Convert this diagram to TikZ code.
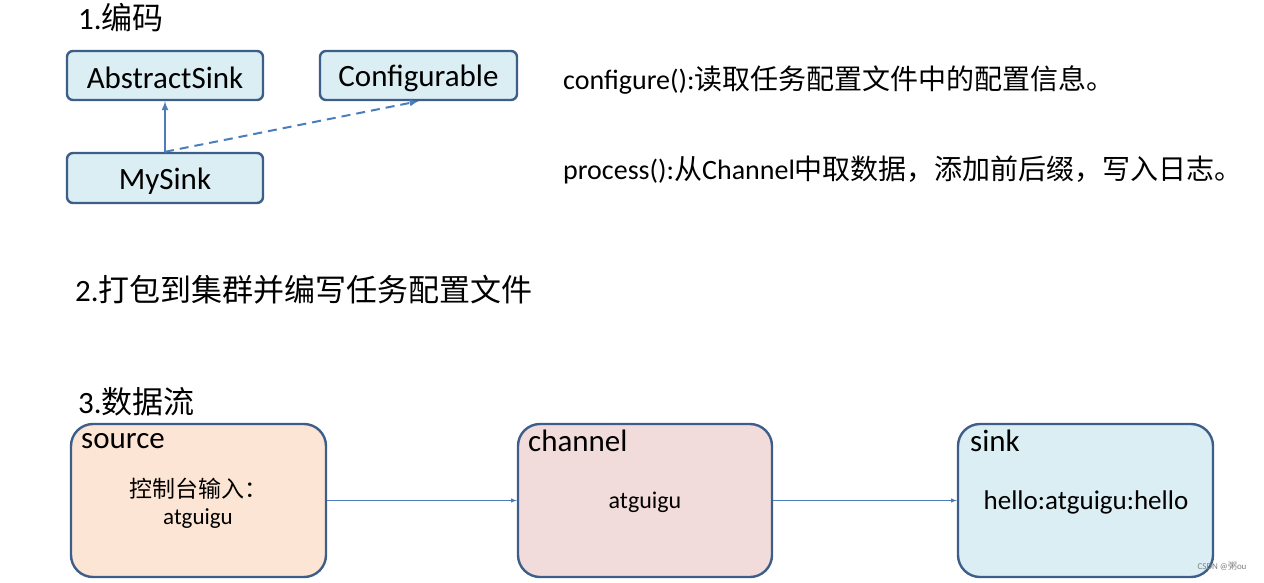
\documentclass[tikz,border=0pt]{standalone}
\usepackage{fontspec}
\setmainfont{Carlito}
\newfontfamily\cjk{Noto Sans CJK SC}
\begin{document}
\begin{tikzpicture}[x=1pt,y=-1pt,
  cls/.style={draw=bd,line width=2.4pt,rounded corners=6pt,fill=lb,inner sep=0pt},
  ct/.style={font=\fontsize{31}{34}\selectfont,inner sep=0pt},
  big/.style={draw=bd,line width=2.4pt,rounded corners=22pt,inner sep=0pt},
  ar/.style={draw=ac,line width=1pt,-latex},
  lab/.style={anchor=west,font=\fontsize{31}{34}\selectfont,inner sep=0pt},
  txt/.style={anchor=west,font=\fontsize{28}{30}\selectfont,inner sep=0pt}]
\definecolor{bd}{HTML}{3E5E8A}
\definecolor{lb}{HTML}{DAEEF3}
\definecolor{ac}{HTML}{4A7EBB}
\definecolor{pe}{HTML}{FCE5D4}
\definecolor{pk}{HTML}{F2DCDB}
\useasboundingbox (0,0) rectangle (1264,582);
\node[lab] (t1) at (78,18) {1.{\cjk 编码}};
\node[cls,minimum width=196pt,minimum height=49pt] (as) at (165,75.5) {};
\node[cls,minimum width=197pt,minimum height=49pt] (cf) at (418.5,75.5) {};
\node[cls,minimum width=196pt,minimum height=50pt] (ms) at (165,178) {};
\node[ct] (ast) at (165,78) {AbstractSink};
\node[ct] (cft) at (418.5,78) {Configurable};
\node[ct] (mst) at (165,181) {MySink};
\draw[ar,line width=2pt] (ms.north) -- (as.south);
\draw[ar,line width=2pt,dash pattern=on 9pt off 6pt] (ms.north) -- (cf.south);
\node[txt] (c1) at (563,80) {configure():{\cjk 读取任务配置文件中的配置信息。}};
\node[txt] (c2) at (563,170) {process():{\cjk 从}Channel{\cjk 中取数据，添加前后缀，写入日志。}};
\node[lab] (t2) at (75,290) {2.{\cjk 打包到集群并编写任务配置文件}};
\node[lab] (t3) at (78,402) {3.{\cjk 数据流}};
\node[big,fill=pe,minimum width=255pt,minimum height=153pt] (src) at (198.5,500.5) {};
\node[big,fill=pk,minimum width=254pt,minimum height=153pt] (ch) at (645,500.5) {};
\node[big,fill=lb,minimum width=255pt,minimum height=153pt] (sk) at (1085.5,500.5) {};
\node[lab] (sl) at (81,441) {source};
\node[lab] (cl) at (528,441) {channel};
\node[lab] (kl) at (970,441) {sink};
\node[font=\fontsize{23}{25}\selectfont,align=center] (st) at (198,503) {{\cjk 控制台输入：}\\[2pt]atguigu};
\node[font=\fontsize{24}{26}\selectfont] (cht) at (645,502) {atguigu};
\node[font=\fontsize{27}{30}\selectfont] (kt) at (1086,502) {hello:atguigu:hello};
\draw[ar] (src.east) -- (ch.west);
\draw[ar] (ch.east) -- (sk.west);
\node[anchor=east,font=\fontsize{9}{10}\selectfont,text=gray] (wm) at (1250,566) {CSDN @{\cjk 粥}ou};
\end{tikzpicture}
\end{document}
